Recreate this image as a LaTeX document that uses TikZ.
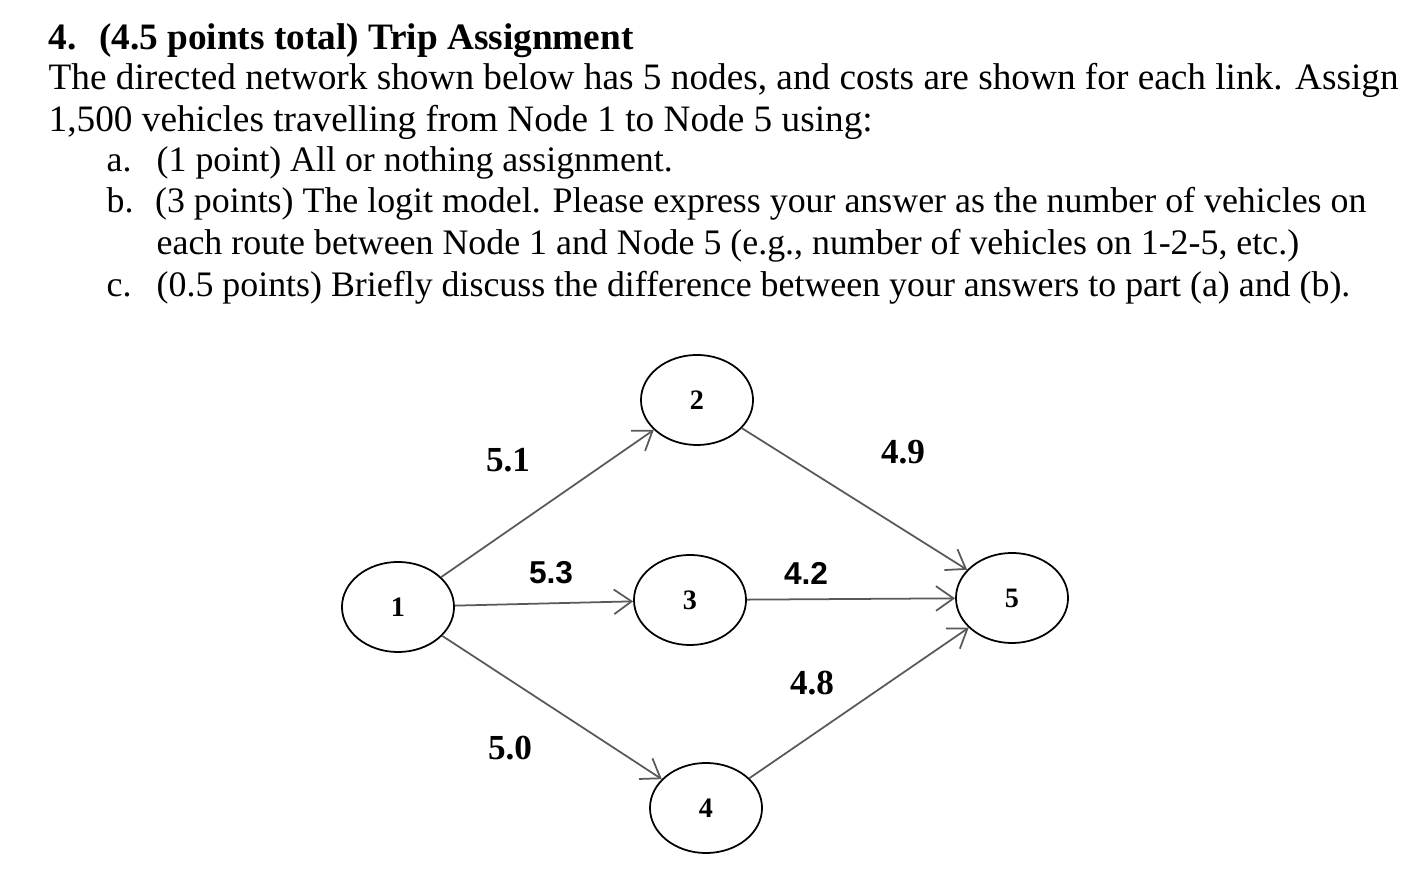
\documentclass[tikz,border=0pt]{standalone}
\usepackage{fontspec}
\setmainfont{Liberation Serif}
\setsansfont{Liberation Sans}
\usetikzlibrary{shapes.geometric,arrows.meta}
\tikzset{
  line/.style={anchor=base west,inner sep=0pt,font=\fontsize{10.6}{12}\selectfont},
  item/.style={line,font=\fontsize{10.2}{12}\selectfont},
  netnode/.style={draw,ellipse,minimum width=1.12cm,minimum height=0.9cm,font=\bfseries\footnotesize,line width=0.5pt},
  link/.style={draw=black!65,line width=0.5pt,-{Straight Barb[length=5pt,width=7pt]}},
  cost/.style={font=\bfseries\fontsize{10}{11}\selectfont,inner sep=0pt},
  costsf/.style={font=\sffamily\bfseries\fontsize{9}{11}\selectfont,inner sep=0pt}
}
\begin{document}
\begin{tikzpicture}[x=0.01cm,y=-0.01cm]
\useasboundingbox (0,0) rectangle (1418,892);
% question text
\node[line] (q1) at (48,50) {\textbf{4.\hspace{0.6em}(4.5 points total) Trip Assignment}};
\node[line] (q2) at (48,90) {The directed network shown below has 5 nodes, and costs are shown for each link. Assign};
\node[line] (q3) at (48,132) {1,500 vehicles travelling from Node 1 to Node 5 using:};
\node[item] (qa) at (106,172) {a.\hspace{0.7em}(1 point) All or nothing assignment.};
\node[item] (qb) at (106,213) {b.\hspace{0.6em}(3 points) The logit model. Please express your answer as the number of vehicles on};
\node[item] (qb2) at (156,255) {each route between Node 1 and Node 5 (e.g., number of vehicles on 1-2-5, etc.)};
\node[item] (qc) at (106,297) {c.\hspace{0.7em}(0.5 points) Briefly discuss the difference between your answers to part (a) and (b).};
% network
\node[netnode] (n1) at (398,607) {1};
\node[netnode] (n2) at (697,400) {2};
\node[netnode] (n3) at (690,600) {3};
\node[netnode] (n4) at (706,808) {4};
\node[netnode] (n5) at (1012,598) {5};
\draw[link] (n1) -- (n2);
\draw[link] (n1) -- (n3);
\draw[link] (n1) -- (n4);
\draw[link] (n2) -- (n5);
\draw[link] (n3) -- (n5);
\draw[link] (n4) -- (n5);
% costs
\node[cost] (c12) at (508,460) {5.1};
\node[cost] (c25) at (903,452) {4.9};
\node[costsf] (c13) at (551,573) {5.3};
\node[costsf] (c35) at (806,573) {4.2};
\node[cost] (c45) at (812,683) {4.8};
\node[cost] (c14) at (510,748) {5.0};
\end{tikzpicture}
\end{document}
